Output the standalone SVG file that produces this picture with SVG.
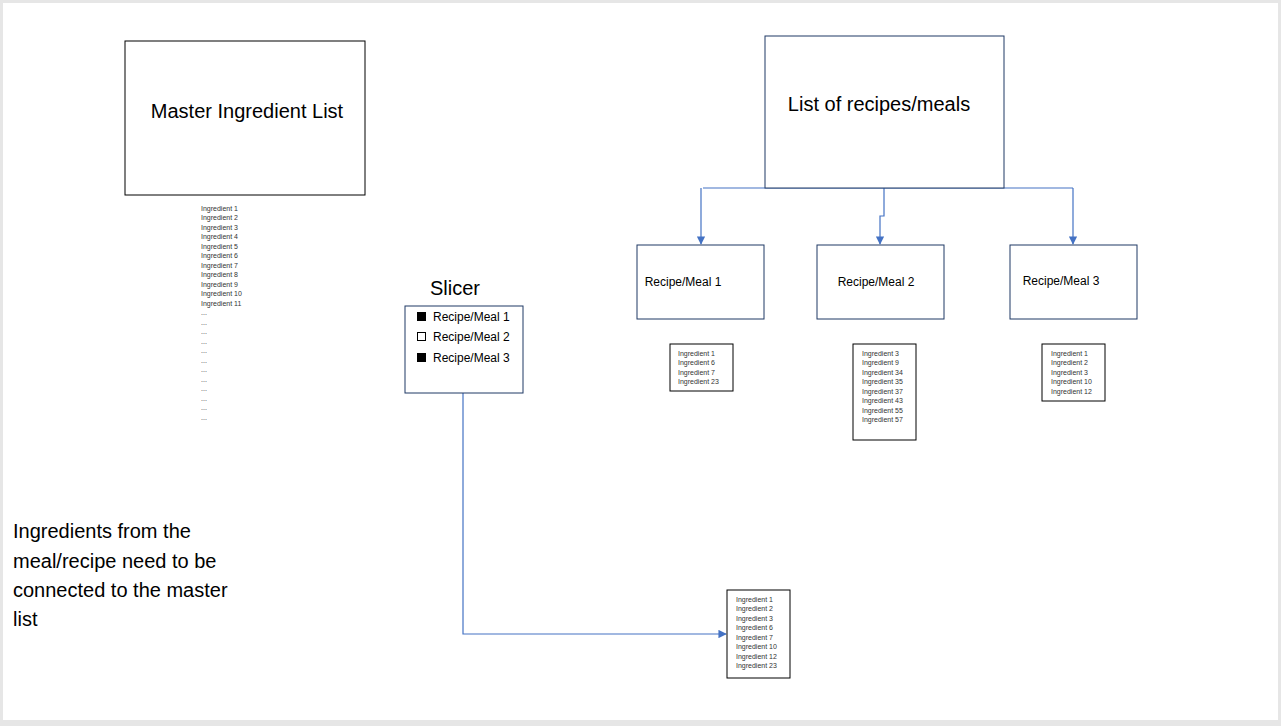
<svg xmlns="http://www.w3.org/2000/svg" width="1281" height="726" viewBox="0 0 1281 726">
<defs>
<style>
.box{fill:#fff;stroke:#000;stroke-width:1}
.bbox{fill:#fff;stroke:#1f3864;stroke-width:1}
.sm{font-family:"Liberation Sans",Arial,sans-serif;font-size:7px;fill:#333}
.md{font-family:"Liberation Sans",Arial,sans-serif;font-size:12px;fill:#000}
.lg{font-family:"Liberation Sans",Arial,sans-serif;font-size:20px;fill:#000}
.con{fill:none;stroke:#4472c4;stroke-width:1.2}
</style>
<marker id="ah" viewBox="0 0 10 10" refX="9" refY="5" markerWidth="7" markerHeight="7" orient="auto"><path d="M0,0 L10,5 L0,10 z" fill="#4472c4"/></marker>
</defs>
<rect x="0" y="0" width="1281" height="726" fill="#e6e6e6"/>
<rect x="3" y="3" width="1275" height="717" fill="#fff"/>
<g id="connectors">
<path class="con" d="M703,188 H1073"/>
<path class="con" d="M701,188 V244" marker-end="url(#ah)"/>
<path class="con" d="M884,188 V216 H880 V244" marker-end="url(#ah)"/>
<path class="con" d="M1073,188 V244" marker-end="url(#ah)"/>
<path class="con" d="M463,393 V634 H726" marker-end="url(#ah)"/>
</g>
<g id="master"><rect class="box" x="125" y="41" width="240" height="154"/><text class="lg" x="247" y="118" text-anchor="middle">Master Ingredient List</text></g>
<g id="master-items" class="sm">
<text x="201" y="211">Ingredient 1</text><text x="201" y="220">Ingredient 2</text><text x="201" y="230">Ingredient 3</text><text x="201" y="239">Ingredient 4</text><text x="201" y="249">Ingredient 5</text><text x="201" y="258">Ingredient 6</text><text x="201" y="268">Ingredient 7</text><text x="201" y="277">Ingredient 8</text><text x="201" y="287">Ingredient 9</text><text x="201" y="296">Ingredient 10</text><text x="201" y="306">Ingredient 11</text>
<text x="201" y="315">...</text><text x="201" y="325">...</text><text x="201" y="334">...</text><text x="201" y="344">...</text><text x="201" y="353">...</text><text x="201" y="363">...</text><text x="201" y="372">...</text><text x="201" y="382">...</text><text x="201" y="391">...</text><text x="201" y="401">...</text><text x="201" y="410">...</text><text x="201" y="420">...</text>
</g>
<g id="list"><rect class="bbox" x="765" y="36" width="239" height="152"/><text class="lg" x="879" y="111" text-anchor="middle">List of recipes/meals</text></g>
<g id="r1"><rect class="bbox" x="637" y="245" width="127" height="74"/><text class="md" x="683" y="286" text-anchor="middle">Recipe/Meal 1</text></g>
<g id="r2"><rect class="bbox" x="817" y="245" width="127" height="74"/><text class="md" x="876" y="286" text-anchor="middle">Recipe/Meal 2</text></g>
<g id="r3"><rect class="bbox" x="1010" y="245" width="127" height="74"/><text class="md" x="1061" y="285" text-anchor="middle">Recipe/Meal 3</text></g>
<g id="i1"><rect class="box" x="670" y="344" width="63" height="47"/><g class="sm"><text x="678" y="356">Ingredient 1</text><text x="678" y="365">Ingredient 6</text><text x="678" y="375">Ingredient 7</text><text x="678" y="384">Ingredient 23</text></g></g>
<g id="i2"><rect class="box" x="853" y="344" width="63" height="96"/><g class="sm"><text x="862" y="356">Ingredient 3</text><text x="862" y="365">Ingredient 9</text><text x="862" y="375">Ingredient 34</text><text x="862" y="384">Ingredient 35</text><text x="862" y="394">Ingredient 37</text><text x="862" y="403">Ingredient 43</text><text x="862" y="413">Ingredient 55</text><text x="862" y="422">Ingredient 57</text></g></g>
<g id="i3"><rect class="box" x="1042" y="344" width="63" height="57"/><g class="sm"><text x="1051" y="356">Ingredient 1</text><text x="1051" y="365">Ingredient 2</text><text x="1051" y="375">Ingredient 3</text><text x="1051" y="384">Ingredient 10</text><text x="1051" y="394">Ingredient 12</text></g></g>
<g id="slicer">
<text class="lg" x="430" y="295">Slicer</text>
<rect class="bbox" x="405" y="306" width="118" height="87"/>
<rect x="417" y="312" width="9" height="9" fill="#000"/><text class="md" x="433" y="321">Recipe/Meal 1</text>
<rect x="417.5" y="332.5" width="8" height="8" fill="#fff" stroke="#000"/><text class="md" x="433" y="341">Recipe/Meal 2</text>
<rect x="417" y="353" width="9" height="9" fill="#000"/><text class="md" x="433" y="362">Recipe/Meal 3</text>
</g>
<g id="result"><rect class="box" x="727" y="590" width="63" height="88"/><g class="sm"><text x="736" y="602">Ingredient 1</text><text x="736" y="611">Ingredient 2</text><text x="736" y="621">Ingredient 3</text><text x="736" y="630">Ingredient 6</text><text x="736" y="640">Ingredient 7</text><text x="736" y="649">Ingredient 10</text><text x="736" y="659">Ingredient 12</text><text x="736" y="668">Ingredient 23</text></g></g>
<g id="note" class="lg"><text x="13" y="538">Ingredients from the</text><text x="13" y="568">meal/recipe need to be</text><text x="13" y="597">connected to the master</text><text x="13" y="626">list</text></g>
</svg>
